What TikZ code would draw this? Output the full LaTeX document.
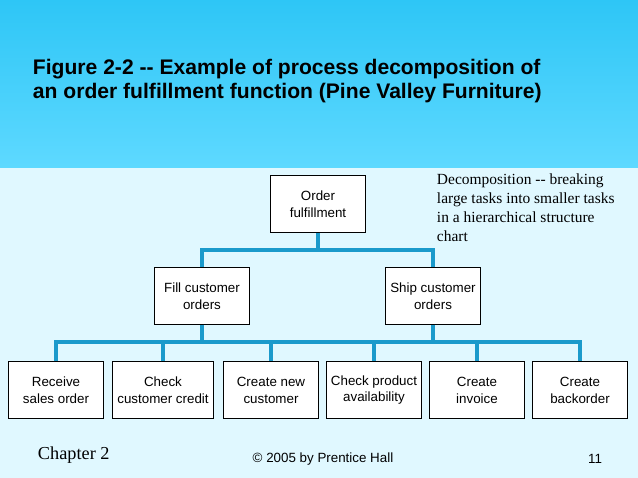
\documentclass[tikz,border=0pt]{standalone}
\usepackage{fontspec}
\setmainfont{Liberation Serif}
\setsansfont{Liberation Sans}
\usetikzlibrary{positioning}
\definecolor{band}{HTML}{2EC6F6}
\definecolor{bandlow}{HTML}{5ED9FF}
\definecolor{pale}{HTML}{E0F8FF}
\definecolor{link}{HTML}{1B9ACB}
\tikzset{
  task/.style = {draw, fill=white, thick, minimum width=68pt, minimum height=40pt,
    align=center, font=\sffamily\fontsize{9.5}{12}\selectfont},
  wide/.style = {task, minimum width=72pt},
  bus/.style = {draw=link, line width=2.2pt}
}
\begin{document}
\begin{tikzpicture}[x=0.025cm, y=-0.025cm]
    \useasboundingbox (0,0) rectangle (638,478);
    \fill[pale] (0,0) rectangle (638,478);
    \shade[top color=band, bottom color=bandlow] (0,0) rectangle (638,168);

    \node[anchor=west, align=left, font=\sffamily\bfseries\fontsize{15}{17}\selectfont]
      (title) at (28,81) {Figure 2-2 -{}- Example of process decomposition of\\
      an order fulfillment function (Pine Valley Furniture)};

    \node[task] (order) at (318,204) {Order\\fulfillment};
    \node[task] (fill) at (202,296) {Fill customer\\orders};
    \node[task] (ship) at (433,296) {Ship customer\\orders};
    \node[task] (receive) at (56,390) {Receive\\sales order};
    \node[wide] (credit) at (163,390) {Check\\customer credit};
    \node[task] (newcust) at (271,390) {Create new\\customer};
    \node[task] (avail) at (374,390) {Check product\\availability};
    \node[task] (invoice) at (477,390) {Create\\invoice};
    \node[task] (backorder) at (580,390) {Create\\backorder};

    % level 1
    \coordinate (b1) at (318,250);
    \draw[bus] (order) -- (b1);
    \draw[bus] (fill.north) |- (b1) -| (ship.north);
    % level 2
    \coordinate (b2) at (202,342);
    \coordinate (b3) at (433,342);
    \draw[bus] (fill) -- (b2);
    \draw[bus] (ship) -- (b3);
    \draw[bus] (receive.north) |- (b2) -| (newcust.north);
    \draw[bus] (credit.north) -- (credit.north |- b2);
    \draw[bus] (newcust.north |- b2) -- (b3);
    \draw[bus] (avail.north) |- (b3) -| (backorder.north);
    \draw[bus] (invoice.north) -- (invoice.north |- b3);

    \node[anchor=north west, align=left, font=\fontsize{11}{13.5}\selectfont]
      (note) at (432,169) {Decomposition -{}- breaking\\large tasks into smaller tasks\\
      in a hierarchical structure\\chart};

    \node[anchor=west, font=\fontsize{13}{15}\selectfont] (chapter) at (33,455) {Chapter 2};
    \node[font=\sffamily\fontsize{9.5}{11}\selectfont] (copy) at (323,459) {© 2005 by Prentice Hall};
    \node[font=\sffamily\fontsize{9.5}{11}\selectfont] (page) at (595,459) {11};
\end{tikzpicture}
\end{document}
